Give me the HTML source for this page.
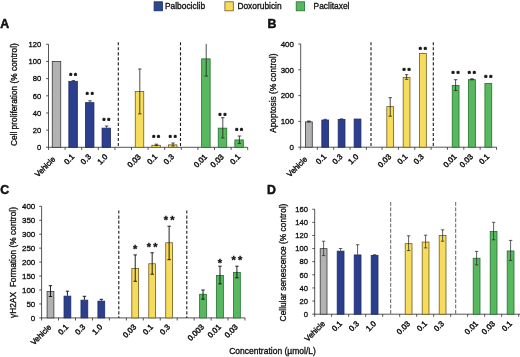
<!DOCTYPE html>
<html lang="en"><head><meta charset="utf-8"><title>Figure</title>
<style>html,body{margin:0;padding:0;background:#fff}svg{display:block}text{stroke:#111;stroke-width:.32px}</style></head>
<body>
<svg width="520" height="357" viewBox="0 0 520 357" font-family='"Liberation Sans", Arial, Helvetica, sans-serif' fill="#111">
<rect width="520" height="357" fill="#fff"/>
<rect x="154.1" y="1.8" width="8.4" height="9.0" fill="#2a4a8c" stroke="#1c2a66" stroke-width="0.8"/>
<text x="165" y="8.6" font-size="8.4">Palbociclib</text>
<rect x="224.9" y="1.8" width="8.4" height="9.0" fill="#f7dc5c" stroke="#6e5c22" stroke-width="0.8"/>
<text x="237.4" y="8.6" font-size="8.4">Doxorubicin</text>
<rect x="296.2" y="1.8" width="8.4" height="9.0" fill="#58b85e" stroke="#256e32" stroke-width="0.8"/>
<text x="313.6" y="8.6" font-size="8.4">Paclitaxel</text>
<text x="0.2" y="27.8" font-size="12.3" font-weight="bold" style="stroke-width:.5px">A</text>
<text x="267.4" y="28.2" font-size="12.3" font-weight="bold" style="stroke-width:.5px">B</text>
<text x="0.2" y="194.0" font-size="12.3" font-weight="bold" style="stroke-width:.5px">C</text>
<text x="267.1" y="194.0" font-size="12.3" font-weight="bold" style="stroke-width:.5px">D</text>
<path d="M48.50 44.30V147.30H247.70M48.50 147.30v2.6M65.10 147.30v2.6M81.70 147.30v2.6M98.30 147.30v2.6M114.90 147.30v2.6M131.50 147.30v2.6M148.10 147.30v2.6M164.70 147.30v2.6M181.30 147.30v2.6M197.90 147.30v2.6M214.50 147.30v2.6M231.10 147.30v2.6M247.70 147.30v2.6M48.50 147.30h-2.4M48.50 130.13h-2.4M48.50 112.97h-2.4M48.50 95.80h-2.4M48.50 78.63h-2.4M48.50 61.47h-2.4M48.50 44.30h-2.4" stroke="#2a2a2a" stroke-width="0.8" fill="none"/>
<text x="41.20" y="150.04" font-size="7.6" text-anchor="end">0</text>
<text x="41.20" y="132.87" font-size="7.6" text-anchor="end">20</text>
<text x="41.20" y="115.70" font-size="7.6" text-anchor="end">40</text>
<text x="41.20" y="98.54" font-size="7.6" text-anchor="end">60</text>
<text x="41.20" y="81.37" font-size="7.6" text-anchor="end">80</text>
<text x="41.20" y="64.20" font-size="7.6" text-anchor="end">100</text>
<text x="41.20" y="47.04" font-size="7.6" text-anchor="end">120</text>
<rect x="52.25" y="61.55" width="8.50" height="85.75" fill="#b2b2b2" stroke="#383838" stroke-width="0.8"/>
<rect x="68.85" y="81.35" width="8.50" height="65.95" fill="#2c3f8f" stroke="#1c2a66" stroke-width="0.8"/>
<path d="M73.40 80.60V81.00M71.70 80.60h3.4" stroke="#222" stroke-width="0.8" fill="none"/>
<rect x="85.45" y="102.65" width="8.50" height="44.65" fill="#2c3f8f" stroke="#1c2a66" stroke-width="0.8"/>
<path d="M90.00 100.80V102.30M88.30 100.80h3.4" stroke="#222" stroke-width="0.8" fill="none"/>
<rect x="102.05" y="128.15" width="8.50" height="19.15" fill="#2c3f8f" stroke="#1c2a66" stroke-width="0.8"/>
<path d="M106.60 126.00V127.80M104.90 126.00h3.4" stroke="#222" stroke-width="0.8" fill="none"/>
<rect x="135.25" y="91.55" width="8.50" height="55.75" fill="#f7dc5c" stroke="#6e5c22" stroke-width="0.8"/>
<path d="M139.80 69.00V113.90M138.10 69.00h3.4M138.10 113.90h3.4" stroke="#222" stroke-width="0.8" fill="none"/>
<rect x="151.85" y="145.25" width="8.50" height="2.05" fill="#f7dc5c" stroke="#6e5c22" stroke-width="0.8"/>
<path d="M156.40 144.20V145.60M154.70 144.20h3.4M154.70 145.60h3.4" stroke="#222" stroke-width="0.8" fill="none"/>
<rect x="168.45" y="144.85" width="8.50" height="2.45" fill="#f7dc5c" stroke="#6e5c22" stroke-width="0.8"/>
<path d="M173.00 143.00V146.00M171.30 143.00h3.4M171.30 146.00h3.4" stroke="#222" stroke-width="0.8" fill="none"/>
<rect x="201.65" y="58.85" width="8.50" height="88.45" fill="#58b85e" stroke="#256e32" stroke-width="0.8"/>
<path d="M206.20 43.90V76.10M204.50 76.10h3.4" stroke="#222" stroke-width="0.8" fill="none"/>
<rect x="218.25" y="128.15" width="8.50" height="19.15" fill="#58b85e" stroke="#256e32" stroke-width="0.8"/>
<path d="M222.80 117.70V137.90M221.10 117.70h3.4M221.10 137.90h3.4" stroke="#222" stroke-width="0.8" fill="none"/>
<rect x="234.85" y="139.95" width="8.50" height="7.35" fill="#58b85e" stroke="#256e32" stroke-width="0.8"/>
<path d="M239.40 136.00V143.40M237.70 136.00h3.4M237.70 143.40h3.4" stroke="#222" stroke-width="0.8" fill="none"/>
<path d="M118.30 42.20V147.30" stroke="#1a1a1a" stroke-width="1.1" stroke-dasharray="3.1 1.94" fill="none"/>
<path d="M180.50 42.20V147.30" stroke="#1a1a1a" stroke-width="1.1" stroke-dasharray="3.1 1.94" fill="none"/>
<text transform="translate(55.83 159.77) rotate(-45)" font-size="7.8" text-anchor="end" style="stroke-width:.42px">Vehicle</text>
<text transform="translate(74.90 157.30) rotate(-45)" font-size="7.8" text-anchor="end" style="stroke-width:.42px">0.1</text>
<text transform="translate(91.50 157.30) rotate(-45)" font-size="7.8" text-anchor="end" style="stroke-width:.42px">0.3</text>
<text transform="translate(108.10 157.30) rotate(-45)" font-size="7.8" text-anchor="end" style="stroke-width:.42px">1.0</text>
<text transform="translate(141.30 157.30) rotate(-45)" font-size="7.8" text-anchor="end" style="stroke-width:.42px">0.03</text>
<text transform="translate(157.90 157.30) rotate(-45)" font-size="7.8" text-anchor="end" style="stroke-width:.42px">0.1</text>
<text transform="translate(174.50 157.30) rotate(-45)" font-size="7.8" text-anchor="end" style="stroke-width:.42px">0.3</text>
<text transform="translate(207.70 157.30) rotate(-45)" font-size="7.8" text-anchor="end" style="stroke-width:.42px">0.01</text>
<text transform="translate(224.30 157.30) rotate(-45)" font-size="7.8" text-anchor="end" style="stroke-width:.42px">0.03</text>
<text transform="translate(240.90 157.30) rotate(-45)" font-size="7.8" text-anchor="end" style="stroke-width:.42px">0.1</text>
<text transform="translate(17.00 94.60) rotate(-90)" font-size="8.35" text-anchor="middle" style="white-space:pre">Cell proliferation (% control)</text>
<text x="73.10" y="77.86" font-size="7.6" font-weight="bold" text-anchor="middle" letter-spacing="1.9" dx="0.95" style="stroke-width:0.55px;stroke-linejoin:round">**</text>
<text x="89.70" y="96.66" font-size="7.6" font-weight="bold" text-anchor="middle" letter-spacing="1.9" dx="0.95" style="stroke-width:0.55px;stroke-linejoin:round">**</text>
<text x="106.30" y="122.76" font-size="7.6" font-weight="bold" text-anchor="middle" letter-spacing="1.9" dx="0.95" style="stroke-width:0.55px;stroke-linejoin:round">**</text>
<text x="156.10" y="140.16" font-size="7.6" font-weight="bold" text-anchor="middle" letter-spacing="1.9" dx="0.95" style="stroke-width:0.55px;stroke-linejoin:round">**</text>
<text x="172.70" y="140.16" font-size="7.6" font-weight="bold" text-anchor="middle" letter-spacing="1.9" dx="0.95" style="stroke-width:0.55px;stroke-linejoin:round">**</text>
<text x="222.50" y="117.66" font-size="7.6" font-weight="bold" text-anchor="middle" letter-spacing="1.9" dx="0.95" style="stroke-width:0.55px;stroke-linejoin:round">**</text>
<text x="239.10" y="132.96" font-size="7.6" font-weight="bold" text-anchor="middle" letter-spacing="1.9" dx="0.95" style="stroke-width:0.55px;stroke-linejoin:round">**</text>
<path d="M300.70 44.00V147.20H496.50M300.30 147.20v2.6M317.35 147.20v2.6M333.70 147.20v2.6M350.05 147.20v2.6M366.40 147.20v2.6M382.05 147.20v2.6M398.40 147.20v2.6M414.75 147.20v2.6M431.10 147.20v2.6M447.45 147.20v2.6M463.80 147.20v2.6M480.15 147.20v2.6M496.50 147.20v2.6M300.70 147.20h-2.4M300.70 121.40h-2.4M300.70 95.60h-2.4M300.70 69.80h-2.4M300.70 44.00h-2.4" stroke="#2a2a2a" stroke-width="0.8" fill="none"/>
<text x="294.00" y="150.08" font-size="8.0" text-anchor="end">0</text>
<text x="294.00" y="124.28" font-size="8.0" text-anchor="end">100</text>
<text x="294.00" y="98.48" font-size="8.0" text-anchor="end">200</text>
<text x="294.00" y="72.68" font-size="8.0" text-anchor="end">300</text>
<text x="294.00" y="46.88" font-size="8.0" text-anchor="end">400</text>
<rect x="305.48" y="121.85" width="6.80" height="25.35" fill="#b2b2b2" stroke="#383838" stroke-width="0.8"/>
<path d="M308.88 121.00V122.00M307.18 121.00h3.4M307.18 122.00h3.4" stroke="#222" stroke-width="0.8" fill="none"/>
<rect x="321.82" y="120.05" width="6.80" height="27.15" fill="#2c3f8f" stroke="#1c2a66" stroke-width="0.8"/>
<path d="M325.22 119.30V119.70M323.52 119.30h3.4" stroke="#222" stroke-width="0.8" fill="none"/>
<rect x="338.18" y="119.55" width="6.80" height="27.65" fill="#2c3f8f" stroke="#1c2a66" stroke-width="0.8"/>
<path d="M341.57 118.90V119.20M339.88 118.90h3.4" stroke="#222" stroke-width="0.8" fill="none"/>
<rect x="354.13" y="119.05" width="6.80" height="28.15" fill="#2c3f8f" stroke="#1c2a66" stroke-width="0.8"/>
<rect x="386.83" y="106.65" width="6.80" height="40.55" fill="#f7dc5c" stroke="#6e5c22" stroke-width="0.8"/>
<path d="M390.23 97.70V116.20M388.53 97.70h3.4M388.53 116.20h3.4" stroke="#222" stroke-width="0.8" fill="none"/>
<rect x="403.18" y="77.35" width="6.80" height="69.85" fill="#f7dc5c" stroke="#6e5c22" stroke-width="0.8"/>
<path d="M406.58 74.70V79.30M404.88 74.70h3.4M404.88 79.30h3.4" stroke="#222" stroke-width="0.8" fill="none"/>
<rect x="419.53" y="53.55" width="6.80" height="93.65" fill="#f7dc5c" stroke="#6e5c22" stroke-width="0.8"/>
<rect x="452.23" y="85.45" width="6.80" height="61.75" fill="#58b85e" stroke="#256e32" stroke-width="0.8"/>
<path d="M455.62 79.70V90.50M453.93 79.70h3.4M453.93 90.50h3.4" stroke="#222" stroke-width="0.8" fill="none"/>
<rect x="468.58" y="79.65" width="6.80" height="67.55" fill="#58b85e" stroke="#256e32" stroke-width="0.8"/>
<path d="M471.98 78.80V79.80M470.28 78.80h3.4M470.28 79.80h3.4" stroke="#222" stroke-width="0.8" fill="none"/>
<rect x="484.93" y="83.45" width="6.80" height="63.75" fill="#58b85e" stroke="#256e32" stroke-width="0.8"/>
<path d="M371.00 42.20V147.20" stroke="#1a1a1a" stroke-width="1.1" stroke-dasharray="3.1 1.94" fill="none"/>
<path d="M433.30 42.20V147.20" stroke="#1a1a1a" stroke-width="1.1" stroke-dasharray="3.1 1.94" fill="none"/>
<text transform="translate(307.90 159.67) rotate(-45)" font-size="7.8" text-anchor="end" style="stroke-width:.42px">Vehicle</text>
<text transform="translate(326.72 157.20) rotate(-45)" font-size="7.8" text-anchor="end" style="stroke-width:.42px">0.1</text>
<text transform="translate(343.07 157.20) rotate(-45)" font-size="7.8" text-anchor="end" style="stroke-width:.42px">0.3</text>
<text transform="translate(359.03 157.20) rotate(-45)" font-size="7.8" text-anchor="end" style="stroke-width:.42px">1.0</text>
<text transform="translate(391.73 157.20) rotate(-45)" font-size="7.8" text-anchor="end" style="stroke-width:.42px">0.03</text>
<text transform="translate(408.08 157.20) rotate(-45)" font-size="7.8" text-anchor="end" style="stroke-width:.42px">0.1</text>
<text transform="translate(424.43 157.20) rotate(-45)" font-size="7.8" text-anchor="end" style="stroke-width:.42px">0.3</text>
<text transform="translate(457.12 157.20) rotate(-45)" font-size="7.8" text-anchor="end" style="stroke-width:.42px">0.01</text>
<text transform="translate(473.48 157.20) rotate(-45)" font-size="7.8" text-anchor="end" style="stroke-width:.42px">0.03</text>
<text transform="translate(489.83 157.20) rotate(-45)" font-size="7.8" text-anchor="end" style="stroke-width:.42px">0.1</text>
<text transform="translate(275.90 93.20) rotate(-90)" font-size="8.35" text-anchor="middle" style="white-space:pre">Apoptosis (% control)</text>
<text x="406.48" y="72.60" font-size="8.0" font-weight="bold" text-anchor="middle" letter-spacing="1.9" dx="0.95" style="stroke-width:0.55px;stroke-linejoin:round">**</text>
<text x="422.82" y="51.70" font-size="8.0" font-weight="bold" text-anchor="middle" letter-spacing="1.9" dx="0.95" style="stroke-width:0.55px;stroke-linejoin:round">**</text>
<text x="455.52" y="76.10" font-size="8.0" font-weight="bold" text-anchor="middle" letter-spacing="1.9" dx="0.95" style="stroke-width:0.55px;stroke-linejoin:round">**</text>
<text x="471.88" y="76.10" font-size="8.0" font-weight="bold" text-anchor="middle" letter-spacing="1.9" dx="0.95" style="stroke-width:0.55px;stroke-linejoin:round">**</text>
<text x="488.23" y="79.70" font-size="8.0" font-weight="bold" text-anchor="middle" letter-spacing="1.9" dx="0.95" style="stroke-width:0.55px;stroke-linejoin:round">**</text>
<path d="M41.60 206.30V317.90H245.00M41.60 317.90v2.6M58.55 317.90v2.6M75.50 317.90v2.6M92.45 317.90v2.6M109.40 317.90v2.6M126.35 317.90v2.6M143.30 317.90v2.6M160.25 317.90v2.6M177.20 317.90v2.6M194.15 317.90v2.6M211.10 317.90v2.6M228.05 317.90v2.6M245.00 317.90v2.6M41.60 317.90h-2.4M41.60 303.95h-2.4M41.60 290.00h-2.4M41.60 276.05h-2.4M41.60 262.10h-2.4M41.60 248.15h-2.4M41.60 234.20h-2.4M41.60 220.25h-2.4M41.60 206.30h-2.4" stroke="#2a2a2a" stroke-width="0.8" fill="none"/>
<text x="35.30" y="320.78" font-size="8.0" text-anchor="end">0</text>
<text x="35.30" y="306.83" font-size="8.0" text-anchor="end">50</text>
<text x="35.30" y="292.88" font-size="8.0" text-anchor="end">100</text>
<text x="35.30" y="278.93" font-size="8.0" text-anchor="end">150</text>
<text x="35.30" y="264.98" font-size="8.0" text-anchor="end">200</text>
<text x="35.30" y="251.03" font-size="8.0" text-anchor="end">250</text>
<text x="35.30" y="237.08" font-size="8.0" text-anchor="end">300</text>
<text x="35.30" y="223.13" font-size="8.0" text-anchor="end">350</text>
<text x="35.30" y="209.18" font-size="8.0" text-anchor="end">400</text>
<rect x="47.08" y="291.55" width="6.80" height="26.35" fill="#b2b2b2" stroke="#383838" stroke-width="0.8"/>
<path d="M50.48 285.70V296.50M48.77 285.70h3.4M48.77 296.50h3.4" stroke="#0a0a0a" stroke-width="0.9" fill="none"/>
<rect x="64.03" y="296.15" width="6.80" height="21.75" fill="#2c3f8f" stroke="#1c2a66" stroke-width="0.8"/>
<path d="M67.43 291.20V295.80M65.73 291.20h3.4" stroke="#0a0a0a" stroke-width="0.9" fill="none"/>
<rect x="80.97" y="300.15" width="6.80" height="17.75" fill="#2c3f8f" stroke="#1c2a66" stroke-width="0.8"/>
<path d="M84.38 296.30V299.80M82.67 296.30h3.4" stroke="#0a0a0a" stroke-width="0.9" fill="none"/>
<rect x="97.92" y="301.15" width="6.80" height="16.75" fill="#2c3f8f" stroke="#1c2a66" stroke-width="0.8"/>
<path d="M101.33 299.30V300.80M99.62 299.30h3.4" stroke="#0a0a0a" stroke-width="0.9" fill="none"/>
<rect x="131.82" y="268.55" width="6.80" height="49.35" fill="#f7dc5c" stroke="#6e5c22" stroke-width="0.8"/>
<path d="M135.22 254.90V281.30M133.53 254.90h3.4M133.53 281.30h3.4" stroke="#0a0a0a" stroke-width="0.9" fill="none"/>
<rect x="148.78" y="263.75" width="6.80" height="54.15" fill="#f7dc5c" stroke="#6e5c22" stroke-width="0.8"/>
<path d="M152.18 252.80V274.20M150.48 252.80h3.4M150.48 274.20h3.4" stroke="#0a0a0a" stroke-width="0.9" fill="none"/>
<rect x="165.72" y="242.75" width="6.80" height="75.15" fill="#f7dc5c" stroke="#6e5c22" stroke-width="0.8"/>
<path d="M169.12 226.20V259.70M167.43 226.20h3.4M167.43 259.70h3.4" stroke="#0a0a0a" stroke-width="0.9" fill="none"/>
<rect x="199.62" y="294.25" width="6.80" height="23.65" fill="#58b85e" stroke="#256e32" stroke-width="0.8"/>
<path d="M203.03 290.00V299.20M201.33 290.00h3.4M201.33 299.20h3.4" stroke="#0a0a0a" stroke-width="0.9" fill="none"/>
<rect x="216.57" y="275.45" width="6.80" height="42.45" fill="#58b85e" stroke="#256e32" stroke-width="0.8"/>
<path d="M219.97 266.20V283.90M218.28 266.20h3.4M218.28 283.90h3.4" stroke="#0a0a0a" stroke-width="0.9" fill="none"/>
<rect x="233.52" y="272.35" width="6.80" height="45.55" fill="#58b85e" stroke="#256e32" stroke-width="0.8"/>
<path d="M236.92 266.20V277.80M235.22 266.20h3.4M235.22 277.80h3.4" stroke="#0a0a0a" stroke-width="0.9" fill="none"/>
<path d="M118.80 210.50V317.90" stroke="#1a1a1a" stroke-width="1.1" stroke-dasharray="3.1 1.94" fill="none"/>
<path d="M186.80 210.50V317.90" stroke="#1a1a1a" stroke-width="1.1" stroke-dasharray="3.1 1.94" fill="none"/>
<text transform="translate(51.76 327.71) rotate(-45)" font-size="7.8" text-anchor="end" style="stroke-width:.42px">Vehicle</text>
<text transform="translate(68.93 327.50) rotate(-45)" font-size="7.8" text-anchor="end" style="stroke-width:.42px">0.1</text>
<text transform="translate(85.88 327.50) rotate(-45)" font-size="7.8" text-anchor="end" style="stroke-width:.42px">0.3</text>
<text transform="translate(102.83 327.50) rotate(-45)" font-size="7.8" text-anchor="end" style="stroke-width:.42px">1.0</text>
<text transform="translate(136.72 327.50) rotate(-45)" font-size="7.8" text-anchor="end" style="stroke-width:.42px">0.03</text>
<text transform="translate(153.68 327.50) rotate(-45)" font-size="7.8" text-anchor="end" style="stroke-width:.42px">0.1</text>
<text transform="translate(170.62 327.50) rotate(-45)" font-size="7.8" text-anchor="end" style="stroke-width:.42px">0.3</text>
<text transform="translate(204.53 327.50) rotate(-45)" font-size="7.8" text-anchor="end" style="stroke-width:.42px">0.003</text>
<text transform="translate(221.47 327.50) rotate(-45)" font-size="7.8" text-anchor="end" style="stroke-width:.42px">0.01</text>
<text transform="translate(238.42 327.50) rotate(-45)" font-size="7.8" text-anchor="end" style="stroke-width:.42px">0.03</text>
<text transform="translate(16.20 262.50) rotate(-90)" font-size="8.35" text-anchor="middle" style="white-space:pre">γH2AX  Formation (% control)</text>
<text x="135.22" y="253.00" font-size="11" font-weight="bold" text-anchor="middle" letter-spacing="2.2" dx="1.1" style="stroke-width:0.3px;stroke-linejoin:round">*</text>
<text x="152.18" y="251.40" font-size="11" font-weight="bold" text-anchor="middle" letter-spacing="2.2" dx="1.1" style="stroke-width:0.3px;stroke-linejoin:round">**</text>
<text x="169.12" y="224.40" font-size="11" font-weight="bold" text-anchor="middle" letter-spacing="2.2" dx="1.1" style="stroke-width:0.3px;stroke-linejoin:round">**</text>
<text x="219.97" y="266.50" font-size="11" font-weight="bold" text-anchor="middle" letter-spacing="2.2" dx="1.1" style="stroke-width:0.3px;stroke-linejoin:round">*</text>
<text x="236.92" y="264.40" font-size="11" font-weight="bold" text-anchor="middle" letter-spacing="2.2" dx="1.1" style="stroke-width:0.3px;stroke-linejoin:round">**</text>
<path d="M314.70 209.20V314.20H520.00M314.70 314.20v2.6M331.70 314.20v2.6M348.70 314.20v2.6M365.70 314.20v2.6M382.70 314.20v2.6M399.70 314.20v2.6M416.70 314.20v2.6M433.70 314.20v2.6M450.70 314.20v2.6M467.70 314.20v2.6M484.70 314.20v2.6M501.70 314.20v2.6M518.70 314.20v2.6M314.70 314.20h-2.4M314.70 301.07h-2.4M314.70 287.95h-2.4M314.70 274.82h-2.4M314.70 261.70h-2.4M314.70 248.57h-2.4M314.70 235.45h-2.4M314.70 222.32h-2.4M314.70 209.20h-2.4" stroke="#2a2a2a" stroke-width="0.8" fill="none"/>
<text x="307.90" y="316.94" font-size="7.6" text-anchor="end">0</text>
<text x="307.90" y="303.81" font-size="7.6" text-anchor="end">20</text>
<text x="307.90" y="290.69" font-size="7.6" text-anchor="end">40</text>
<text x="307.90" y="277.56" font-size="7.6" text-anchor="end">60</text>
<text x="307.90" y="264.44" font-size="7.6" text-anchor="end">80</text>
<text x="307.90" y="251.31" font-size="7.6" text-anchor="end">100</text>
<text x="307.90" y="238.19" font-size="7.6" text-anchor="end">120</text>
<text x="307.90" y="225.06" font-size="7.6" text-anchor="end">140</text>
<text x="307.90" y="211.94" font-size="7.6" text-anchor="end">160</text>
<rect x="320.20" y="248.65" width="6.80" height="65.55" fill="#b2b2b2" stroke="#383838" stroke-width="0.8"/>
<path d="M323.60 241.20V255.60M321.90 241.20h3.4M321.90 255.60h3.4" stroke="#2a2a2a" stroke-width="0.75" fill="none"/>
<rect x="337.20" y="251.15" width="6.80" height="63.05" fill="#2c3f8f" stroke="#1c2a66" stroke-width="0.8"/>
<path d="M340.60 248.50V250.80M338.90 248.50h3.4" stroke="#2a2a2a" stroke-width="0.75" fill="none"/>
<rect x="354.20" y="254.95" width="6.80" height="59.25" fill="#2c3f8f" stroke="#1c2a66" stroke-width="0.8"/>
<path d="M357.60 244.70V254.60M355.90 244.70h3.4" stroke="#2a2a2a" stroke-width="0.75" fill="none"/>
<rect x="371.20" y="255.45" width="6.80" height="58.75" fill="#2c3f8f" stroke="#1c2a66" stroke-width="0.8"/>
<path d="M374.60 254.70V255.10M372.90 254.70h3.4" stroke="#2a2a2a" stroke-width="0.75" fill="none"/>
<rect x="405.20" y="243.65" width="6.80" height="70.55" fill="#f7dc5c" stroke="#6e5c22" stroke-width="0.8"/>
<path d="M408.60 235.80V250.60M406.90 235.80h3.4M406.90 250.60h3.4" stroke="#2a2a2a" stroke-width="0.75" fill="none"/>
<rect x="422.20" y="242.05" width="6.80" height="72.15" fill="#f7dc5c" stroke="#6e5c22" stroke-width="0.8"/>
<path d="M425.60 235.20V247.90M423.90 235.20h3.4M423.90 247.90h3.4" stroke="#2a2a2a" stroke-width="0.75" fill="none"/>
<rect x="439.20" y="235.55" width="6.80" height="78.65" fill="#f7dc5c" stroke="#6e5c22" stroke-width="0.8"/>
<path d="M442.60 229.80V241.20M440.90 229.80h3.4M440.90 241.20h3.4" stroke="#2a2a2a" stroke-width="0.75" fill="none"/>
<rect x="473.20" y="258.25" width="6.80" height="55.95" fill="#58b85e" stroke="#256e32" stroke-width="0.8"/>
<path d="M476.60 251.40V264.90M474.90 251.40h3.4M474.90 264.90h3.4" stroke="#2a2a2a" stroke-width="0.75" fill="none"/>
<rect x="490.20" y="231.55" width="6.80" height="82.65" fill="#58b85e" stroke="#256e32" stroke-width="0.8"/>
<path d="M493.60 222.30V239.80M491.90 222.30h3.4M491.90 239.80h3.4" stroke="#2a2a2a" stroke-width="0.75" fill="none"/>
<rect x="507.20" y="250.95" width="6.80" height="63.25" fill="#58b85e" stroke="#256e32" stroke-width="0.8"/>
<path d="M510.60 240.40V260.50M508.90 240.40h3.4M508.90 260.50h3.4" stroke="#2a2a2a" stroke-width="0.75" fill="none"/>
<path d="M390.70 202.00V314.20" stroke="#444" stroke-width="0.85" stroke-dasharray="3.8 1.6" fill="none"/>
<path d="M455.70 202.00V314.20" stroke="#444" stroke-width="0.85" stroke-dasharray="3.8 1.6" fill="none"/>
<text transform="translate(325.60 324.20) rotate(-45)" font-size="7.8" text-anchor="end" style="stroke-width:.42px">Vehicle</text>
<text transform="translate(342.60 324.20) rotate(-45)" font-size="7.8" text-anchor="end" style="stroke-width:.42px">0.1</text>
<text transform="translate(359.60 324.20) rotate(-45)" font-size="7.8" text-anchor="end" style="stroke-width:.42px">0.3</text>
<text transform="translate(376.60 324.20) rotate(-45)" font-size="7.8" text-anchor="end" style="stroke-width:.42px">1.0</text>
<text transform="translate(410.60 324.20) rotate(-45)" font-size="7.8" text-anchor="end" style="stroke-width:.42px">0.03</text>
<text transform="translate(427.60 324.20) rotate(-45)" font-size="7.8" text-anchor="end" style="stroke-width:.42px">0.1</text>
<text transform="translate(444.60 324.20) rotate(-45)" font-size="7.8" text-anchor="end" style="stroke-width:.42px">0.3</text>
<text transform="translate(478.60 324.20) rotate(-45)" font-size="7.8" text-anchor="end" style="stroke-width:.42px">0.01</text>
<text transform="translate(495.60 324.20) rotate(-45)" font-size="7.8" text-anchor="end" style="stroke-width:.42px">0.03</text>
<text transform="translate(512.60 324.20) rotate(-45)" font-size="7.8" text-anchor="end" style="stroke-width:.42px">0.1</text>
<text transform="translate(286.30 262.50) rotate(-90)" font-size="8.35" text-anchor="middle" style="white-space:pre">Cellular senescence (% control)</text>
<text x="229.2" y="354.1" font-size="8.5">Concentration (µmol/L)</text>
</svg>
</body></html>
